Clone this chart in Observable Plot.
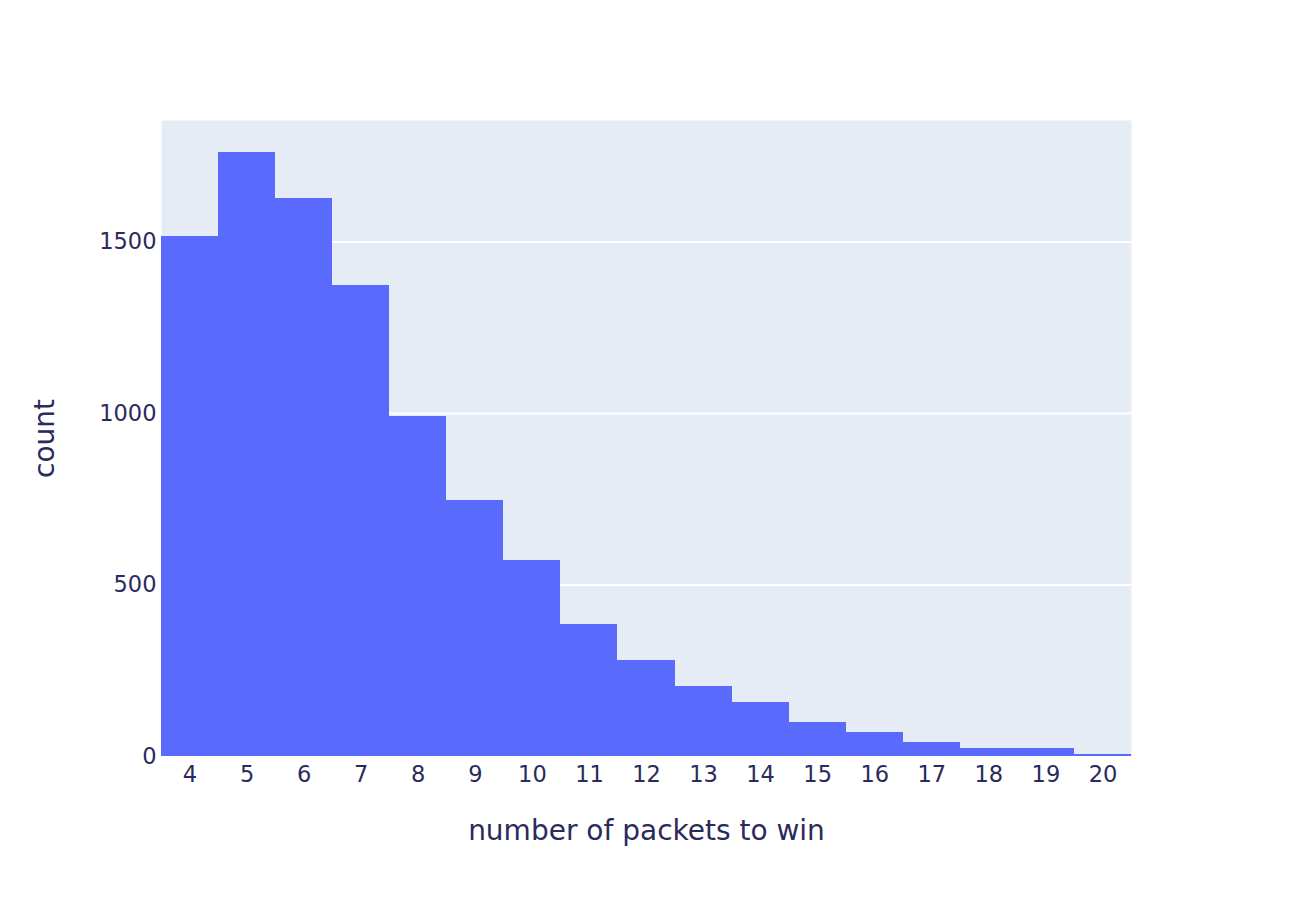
<!DOCTYPE html>
<html>
<head>
<meta charset="utf-8">
<script src="https://cdn.jsdelivr.net/npm/d3@7"></script>
<script src="https://cdn.jsdelivr.net/npm/@observablehq/plot@0.6"></script>
<style>
  html, body { margin: 0; padding: 0; background: #ffffff; }
  #chart svg { display: block; }
</style>
</head>
<body>
<div id="chart"></div>
<script>
// number of packets to win (bin centers)
const packets = [4, 5, 6, 7, 8, 9, 10, 11, 12, 13, 14, 15, 16, 17, 18, 19, 20];
// count per bin
const counts = [1517, 1762, 1627, 1372, 992, 747, 572, 385, 279, 203, 158, 98, 69, 40, 24, 24, 5];
// axis ticks
const xTicks = [4, 5, 6, 7, 8, 9, 10, 11, 12, 13, 14, 15, 16, 17, 18, 19, 20];
const yTicks = [0, 500, 1000, 1500];

const data = packets.map((p, i) => ({packets: p, count: counts[i]}));

const textColor = "#2a2a5c";

const chart = Plot.plot({
  width: 1292,
  height: 918,
  marginTop: 120,
  marginBottom: 162,
  marginLeft: 161,
  marginRight: 161,
  style: {
    fontFamily: "'DejaVu Sans', Verdana, sans-serif",
    fontSize: "22px",
    color: textColor,
    background: "#ffffff",
    overflow: "visible"
  },
  x: {domain: [3.5, 20.5], label: null},
  y: {domain: [0, 1854], label: null},
  marks: [
    Plot.frame({fill: "#e5ecf6", stroke: null}),
    Plot.gridY(yTicks, {stroke: "#ffffff", strokeOpacity: 1, strokeWidth: 2}),
    Plot.rect(data, {
      x1: d => d.packets - 0.5,
      x2: d => d.packets + 0.5,
      y1: 0,
      y2: "count",
      fill: "#5a6afc",
      inset: 0,
      shapeRendering: "crispEdges"
    }),
    Plot.axisX(xTicks, {tickSize: 0, tickPadding: 10, label: null, tickFormat: d => String(d), fontSize: 22.5}),
    Plot.axisY(yTicks, {tickSize: 0, tickPadding: 5, label: null, tickFormat: d => String(d), fontSize: 22.5}),
    Plot.text(["number of packets to win"], {frameAnchor: "bottom", dy: 75, lineAnchor: "middle", textAnchor: "middle", fontSize: 28, fill: textColor}),
    Plot.text(["count"], {frameAnchor: "left", dx: -116, rotate: -90, textAnchor: "middle", lineAnchor: "middle", fontSize: 28, fill: textColor})
  ]
});

document.getElementById("chart").appendChild(chart);
</script>
</body>
</html>
